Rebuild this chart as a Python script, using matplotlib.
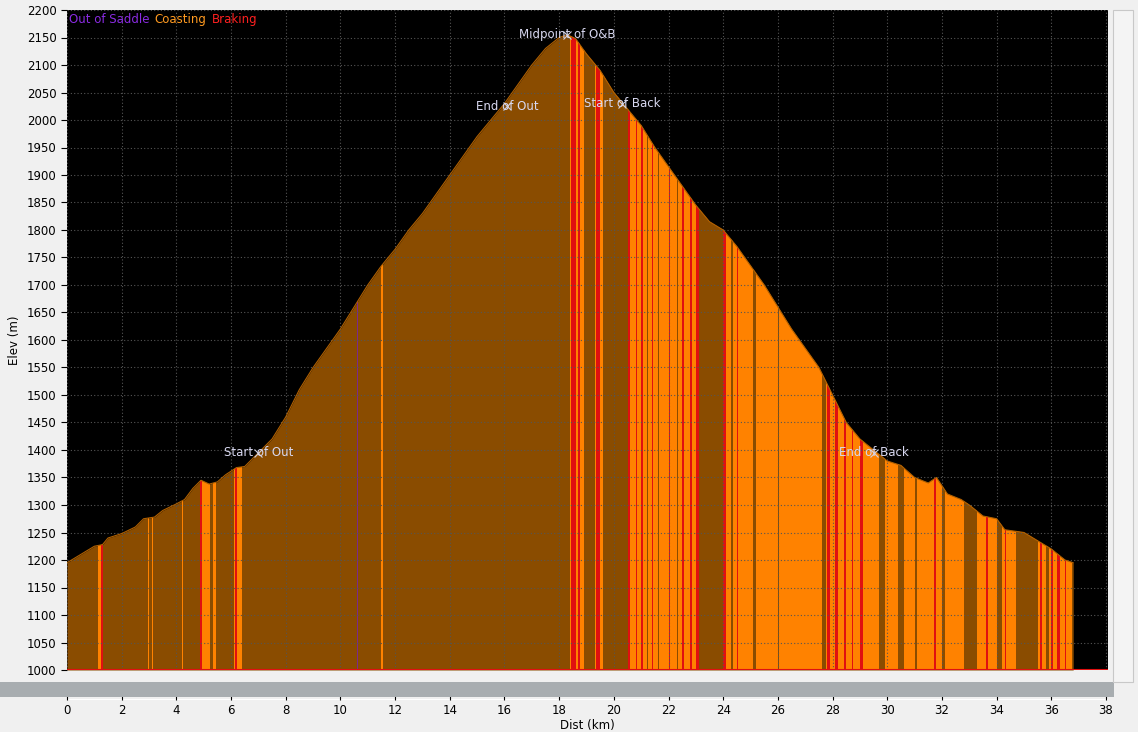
import numpy as np
import matplotlib
matplotlib.use("Agg")
import matplotlib.pyplot as plt
from matplotlib.patches import Rectangle

# ---------------- DATA ----------------
dist_km = [0, 0.5, 1.0, 1.3, 1.5, 2.0, 2.5, 2.8, 3.2, 3.5, 4.0, 4.3, 4.6, 4.9, 5.2, 5.5,
           5.8, 6.2, 6.5, 7.0, 7.5, 8.0, 8.5, 9.0, 9.5, 10.0, 10.5, 11.0, 11.5, 12.0,
           12.5, 13.0, 13.5, 14.0, 14.5, 15.0, 15.5, 16.0, 16.5, 17.0, 17.5, 18.0, 18.3,
           18.6, 19.0, 19.5, 20.0, 20.5, 21.0, 21.5, 22.0, 22.5, 23.0, 23.5, 24.0, 24.5,
           25.0, 25.5, 26.0, 26.5, 27.0, 27.5, 28.0, 28.5, 29.0, 29.5, 30.0, 30.5, 31.0,
           31.5, 31.8, 32.2, 32.7, 33.0, 33.5, 34.0, 34.3, 35.0, 35.5, 36.0, 36.5, 36.8]
elev_m = [1195, 1210, 1225, 1228, 1240, 1248, 1260, 1275, 1278, 1290, 1302, 1310, 1330,
          1345, 1338, 1342, 1355, 1368, 1370, 1395, 1420, 1460, 1510, 1550, 1585, 1620,
          1660, 1700, 1735, 1765, 1800, 1830, 1865, 1900, 1935, 1970, 2000, 2030, 2065,
          2100, 2130, 2150, 2155, 2148, 2120, 2090, 2050, 2020, 1990, 1950, 1915, 1880,
          1845, 1815, 1800, 1770, 1735, 1700, 1660, 1620, 1585, 1550, 1500, 1450, 1420,
          1400, 1380, 1372, 1350, 1340, 1350, 1320, 1310, 1300, 1280, 1275, 1255, 1250,
          1235, 1220, 1200, 1195]

coasting = [(1.15, 1.3), (2.95, 3.0), (3.1, 3.15), (4.2, 4.25), (4.88, 5.22), (5.35, 5.45),
            (6.1, 6.4), (11.5, 11.55), (18.4, 36.75)]
brown_gaps = [(18.9, 19.3), (19.6, 20.5), (21.2, 21.25), (21.6, 21.65), (22.3, 22.35),
              (23.1, 24.0), (24.3, 24.35), (25.1, 25.2), (26.0, 26.05), (27.6, 27.75),
              (29.7, 29.9), (30.4, 30.6), (31.0, 31.1), (32.0, 32.1), (32.8, 33.3),
              (34.0, 34.2), (34.7, 35.5), (35.8, 35.9)]
braking = [(1.25, 1.3), (4.88, 4.93), (6.15, 6.2), (18.45, 18.6), (18.7, 18.75),
           (19.35, 19.5), (20.5, 20.6), (20.8, 20.85), (21.0, 21.05), (21.4, 21.45),
           (22.0, 22.05), (22.5, 22.55), (22.8, 22.85), (23.0, 23.1), (24.0, 24.1),
           (24.5, 24.55), (27.8, 27.9), (28.1, 28.2), (28.4, 28.5), (28.7, 28.75),
           (29.0, 29.1), (31.7, 31.8), (33.6, 33.7), (34.3, 34.35), (35.6, 35.65),
           (36.0, 36.05), (36.2, 36.3), (36.5, 36.55)]
out_of_saddle = [(10.6, 10.63), (13.7, 13.73)]

markers = [("Start of Out", 7.0, 1395), ("End of Out", 16.1, 2025),
           ("Midpoint of O&B", 18.3, 2155), ("Start of Back", 20.3, 2030),
           ("End of Back", 29.5, 1395)]
# --------------------------------------

BROWN = "#8a4c00"
ORANGE = "#ff8200"
RED = "#e01010"
PURPLE = "#7b2a8a"

fig = plt.figure(figsize=(11.38, 7.32), dpi=100, facecolor="#f0f0f0")
W, H = 1138, 732
ax = fig.add_axes([67 / W, (732 - 670) / H, (1108 - 67) / W, 660 / H])
ax.set_facecolor("black")

x0, x1 = 0, 38 * 1041 / 1039
poly = ax.fill_between(dist_km, elev_m, 1000, color=BROWN, lw=0)
clip = poly.get_paths()[0]

def stripes(spans, color):
    for a, b in spans:
        r = ax.axvspan(a, b, color=color, lw=0)
        r.set_clip_path(clip, ax.transData)

stripes(coasting, ORANGE)
stripes(brown_gaps, BROWN)
stripes(braking, RED)
stripes(out_of_saddle, PURPLE)
ax.plot(dist_km, elev_m, color="#b06000", lw=0.8)
ax.axhline(1000, color=RED, lw=1.5)

for label, x, y in markers:
    ax.plot(x, y, marker="x", color="#d0d0e0", ms=6, mew=0.8)
    ax.text(x, y, label, color="#d8d8f0", fontsize=8.5, ha="center", va="center")

ax.set_xlim(x0, x1)
ax.set_ylim(1000, 2200)
ax.set_yticks(range(1000, 2201, 50))
ax.set_xticks(range(0, 39, 2))
ax.tick_params(axis="x", bottom=False, labelbottom=False)
ax.tick_params(axis="y", labelsize=8.5, length=4)
ax.grid(True, color="#555555", ls=(0, (1, 2)), lw=0.8)
ax.set_ylabel("Elev (m)", fontsize=8.5)
for s in ax.spines.values():
    s.set_visible(False)

ax.text(0.002, 0.995, "Out of Saddle", color="#8a2be2", fontsize=8.5,
        transform=ax.transAxes, va="top")
ax.text(0.084, 0.995, "Coasting", color="#ff9a20", fontsize=8.5,
        transform=ax.transAxes, va="top")
ax.text(0.139, 0.995, "Braking", color="#ff2020", fontsize=8.5,
        transform=ax.transAxes, va="top")

# scrollbars
fig.add_artist(Rectangle((0, (732 - 697) / H), 1114 / W, 15 / H, transform=fig.transFigure,
                         color="#a8adb0", lw=0))
fig.add_artist(Rectangle((1113 / W, (732 - 682) / H), 20 / W, 672 / H,
                         transform=fig.transFigure, color="#f4f4f4", ec="#c8c8c8", lw=0.8))

# separate distance axis under the scrollbar
xa = fig.add_axes([67 / W, (732 - 700) / H, (1108 - 67) / W, 0.001])
xa.set_xlim(x0, x1)
xa.set_xticks(range(0, 39, 2))
xa.set_yticks([])
xa.tick_params(axis="x", direction="in", length=5, labelsize=8.5, pad=3)
for s in xa.spines.values():
    s.set_visible(False)
xa.set_xlabel("Dist (km)", fontsize=8.5, labelpad=1)

fig.savefig("out.png", dpi=100, facecolor=fig.get_facecolor())
